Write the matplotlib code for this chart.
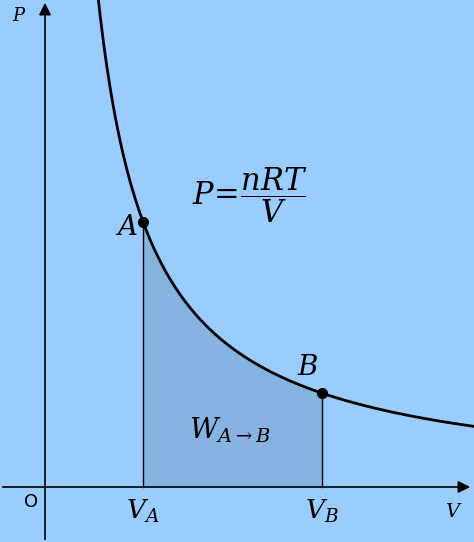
import numpy as np
import matplotlib.pyplot as plt

plt.rcParams["mathtext.fontset"] = "dejavuserif"

# isotherm P = k / V (arbitrary units)
k = 26000.0
v_a = 98.0
v_b = 277.0
v_curve = np.linspace(52, 430, 400)
v_fill = np.linspace(v_a, v_b, 200)

fig = plt.figure(figsize=(4.74, 5.42), dpi=100)
fig.patch.set_facecolor("#99ccff")
ax = fig.add_axes([0, 0, 1, 1])
ax.set_facecolor("#99ccff")
ax.set_xlim(-45, 429)
ax.set_ylim(-55, 487)
ax.axis("off")

# shaded work area
ax.fill_between(v_fill, 0, k / v_fill, color="#86b4e0", lw=0)
ax.plot(v_curve, k / v_curve, color="black", lw=2)
ax.plot([v_a, v_a], [0, k / v_a], color="black", lw=1)
ax.plot([v_b, v_b], [0, k / v_b], color="black", lw=1)
ax.plot([v_a, v_b], [k / v_a, k / v_b], "o", color="black", ms=7)

# axes with arrows
ax.annotate("", xy=(428, 0), xytext=(-45, 0),
            arrowprops=dict(arrowstyle="-|>", color="black", lw=1.2, mutation_scale=18))
ax.annotate("", xy=(0, 487), xytext=(0, -55),
            arrowprops=dict(arrowstyle="-|>", color="black", lw=1.2, mutation_scale=18))

tf = dict(family="DejaVu Serif", style="italic", color="black")
ax.text(-33, 466, "P", fontsize=13, **tf)
ax.text(-14, -20, "O", fontsize=13, color="black", ha="center")
ax.text(400, -30, "V", fontsize=14, **tf)
ax.text(v_a, -32, r"$V_A$", fontsize=19, ha="center")
ax.text(v_b, -32, r"$V_B$", fontsize=19, ha="center")
ax.text(v_a - 6, k / v_a - 6, "A", fontsize=20, ha="right", va="center", **tf)
ax.text(v_b - 14, k / v_b + 12, "B", fontsize=20, ha="center", va="bottom", **tf)
ax.text(185, 57, r"$W_{A\rightarrow B}$", fontsize=20, ha="center", va="center")
ax.text(205, 292, r"$P\!=\!\dfrac{nRT}{V}$", fontsize=22, ha="center", va="center")

fig.savefig("out.png", dpi=100, facecolor=fig.get_facecolor())
